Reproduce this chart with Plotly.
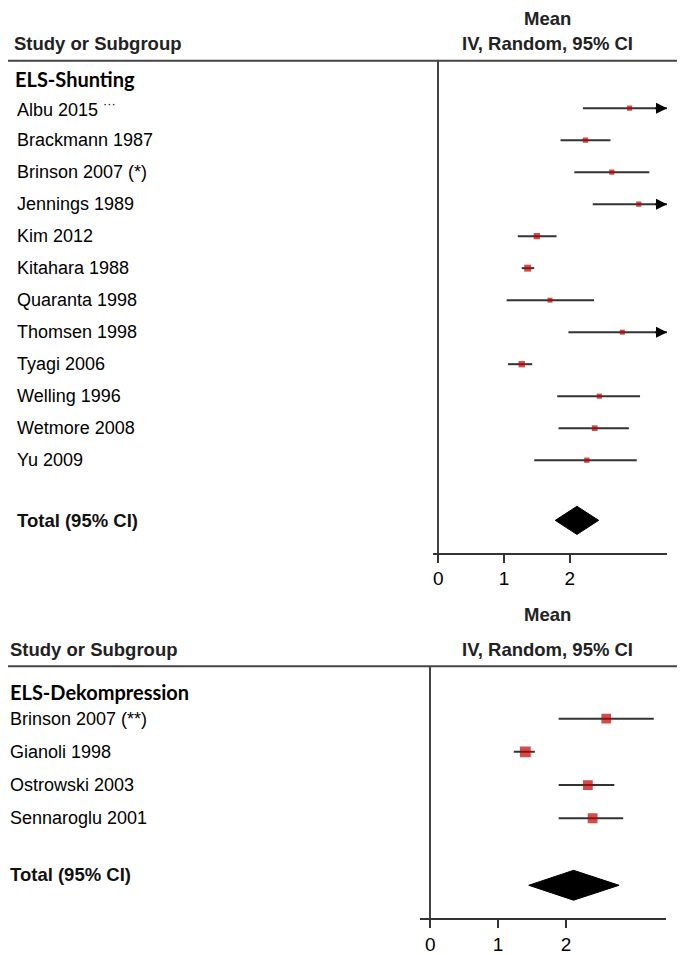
import plotly.graph_objects as go

# ------------ data: ELS-Shunting
shunt_studies = ["Albu 2015 <sup>···</sup>", "Brackmann 1987", "Brinson 2007 (*)", "Jennings 1989",
                 "Kim 2012", "Kitahara 1988", "Quaranta 1998", "Thomsen 1998", "Tyagi 2006",
                 "Welling 1996", "Wetmore 2008", "Yu 2009"]
shunt_mean = [2.91, 2.24, 2.64, 3.05, 1.50, 1.36, 1.70, 2.80, 1.27, 2.45, 2.38, 2.26]
shunt_low = [2.20, 1.86, 2.07, 2.35, 1.21, 1.27, 1.04, 1.98, 1.06, 1.81, 1.83, 1.46]
shunt_high = [None, 2.62, 3.21, None, 1.80, 1.46, 2.37, None, 1.43, 3.07, 2.90, 3.02]  # None -> runs off the scale
shunt_weight = [7.6, 7.9, 7.6, 7.5, 9.3, 10.2, 7.3, 7.4, 9.4, 7.6, 8.4, 7.8]
shunt_total = [1.78, 2.11, 2.44]  # low, mean, high

# ------------ data: ELS-Dekompression
dek_studies = ["Brinson 2007 (**)", "Gianoli 1998", "Ostrowski 2003", "Sennaroglu 2001"]
dek_mean = [2.59, 1.40, 2.32, 2.39]
dek_low = [1.89, 1.23, 1.89, 1.89]
dek_high = [3.29, 1.54, 2.71, 2.84]
dek_weight = [24.0, 27.0, 24.5, 24.5]
dek_total = [1.45, 2.11, 2.78]

# ------------ style
PAGE_W, PAGE_H = 685, 955
OFF = 8  # default body margin of the html page
W, H = PAGE_W - OFF, PAGE_H - OFF
FONT = "Liberation Sans, Arial, sans-serif"
GROUPFONT = "Lato, Open Sans, sans-serif"
RED = "#c00000"
LINE = "#333333"
LBL = 18


def px_x(p):
    # page pixel -> paper x
    return (p - OFF) / W


def px_y(p):
    return 1 - (p - OFF) / H


def add_panel(fig, studies, mean, low, high, weight, total, xa, ya, xmax, size_k, half_h, gap):
    rows = list(range(1, len(studies) + 1))
    total_row = rows[-1] + gap

    # CI lines (ones without an upper bound run to the edge and get an arrow)
    xs, ys = [], []
    for r, lo, hi in zip(rows, low, high):
        xs += [lo, hi if hi is not None else xmax, None]
        ys += [r, r, None]
        if hi is None:
            fig.add_annotation(x=xmax, y=r, ax=xmax - 0.2, ay=r, xref=xa, yref=ya,
                               axref=xa, ayref=ya, text="", showarrow=True,
                               arrowhead=2, arrowsize=1.1, arrowwidth=2, arrowcolor="black")
    fig.add_trace(go.Scatter(x=xs, y=ys, mode="lines", line=dict(color=LINE, width=2),
                             xaxis=xa, yaxis=ya, hoverinfo="skip", cliponaxis=False))
    fig.add_trace(go.Scatter(x=mean, y=rows, mode="markers",
                             marker=dict(symbol="square", color=RED,
                                         size=[w * size_k for w in weight], line=dict(width=0)),
                             xaxis=xa, yaxis=ya))
    lo, mid, hi = total
    fig.add_trace(go.Scatter(x=[lo, mid, hi, mid, lo], y=[total_row, total_row - half_h, total_row,
                                                           total_row + half_h, total_row],
                             mode="lines", fill="toself", fillcolor="black",
                             line=dict(color="black", width=1), xaxis=xa, yaxis=ya))
    return rows, total_row


def label(fig, x, y, text, yref="paper", font=FONT, size=LBL, color="black", xanchor="left"):
    fig.add_annotation(x=x, y=y, xref="paper", yref=yref, text=text, showarrow=False,
                       xanchor=xanchor, yanchor="middle",
                       font=dict(family=font, size=size, color=color))


fig = go.Figure()

rows1, tot1 = add_panel(fig, shunt_studies, shunt_mean, shunt_low, shunt_high, shunt_weight,
                        shunt_total, "x", "y", 3.48, 0.68, 0.44, 1.88)
rows2, tot2 = add_panel(fig, dek_studies, dek_mean, dek_low, dek_high, dek_weight,
                        dek_total, "x2", "y2", 3.47, 0.40, 0.45, 2.02)

# left column labels
for r, s in zip(rows1, shunt_studies):
    label(fig, px_x(15), r, s, yref="y")
for r, s in zip(rows2, dek_studies):
    label(fig, px_x(8), r, s, yref="y2")

label(fig, px_x(13), px_y(79), "<b>ELS-Shunting</b>", font=GROUPFONT, size=20)
label(fig, px_x(8), px_y(695), "<b>ELS-Dekompression</b>", font=GROUPFONT, size=20)
label(fig, px_x(15), tot1, "<b>Total (95% CI)</b>", yref="y", size=18.5, color="#111")
# in the lower panel the total label sits a little above its diamond
label(fig, px_x(8), tot2 - 0.33, "<b>Total (95% CI)</b>", yref="y2", size=18.5, color="#111")

# column headers
for ytop, ymid, xs in [(19, 44, 12), (617, 652, 8)]:
    label(fig, px_x(547), px_y(ytop), "<b>Mean</b>", size=18.5, color="#222", xanchor="center")
    label(fig, px_x(547), px_y(ymid), "<b>IV, Random, 95% CI</b>", size=18.5, color="#222",
          xanchor="center")
    label(fig, px_x(xs), px_y(ymid), "<b>Study or Subgroup</b>", size=18.5, color="#222")

for yl in [61, 669]:
    fig.add_shape(type="line", xref="paper", yref="paper", x0=0, x1=1, y0=px_y(yl), y1=px_y(yl),
                  line=dict(color="#444", width=2))

axis_common = dict(showline=True, linecolor=LINE, linewidth=2, ticks="outside", ticklen=8,
                   tickwidth=2, tickcolor=LINE, tickvals=[0, 1, 2], showgrid=False,
                   zeroline=True, zerolinecolor="#444", zerolinewidth=2,
                   tickfont=dict(family=FONT, size=19, color="black"), fixedrange=True)

fig.update_layout(
    width=W, height=H, margin=dict(l=0, r=0, t=0, b=0),
    paper_bgcolor="white", plot_bgcolor="white", showlegend=False,
    xaxis=dict(domain=[px_x(433), px_x(667)], range=[-0.08, 3.48], anchor="y", **axis_common),
    yaxis=dict(domain=[px_y(555), px_y(61)], range=[14.89, -0.48], visible=False, anchor="x"),
    xaxis2=dict(domain=[px_x(420), px_x(666)], range=[-0.15, 3.47], anchor="y2", **axis_common),
    yaxis2=dict(domain=[px_y(922), px_y(669)], range=[7.01, -0.58], visible=False, anchor="x2"),
)

fig.write_html("out.html")
